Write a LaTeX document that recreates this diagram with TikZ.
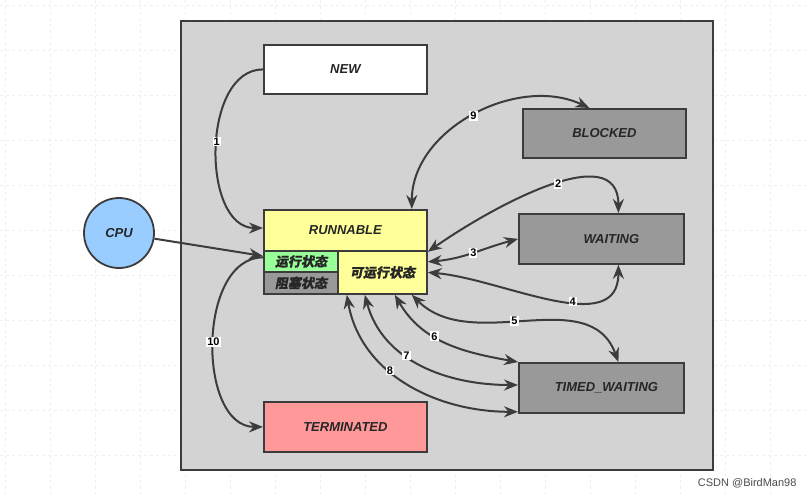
\documentclass[tikz,border=0pt]{standalone}
\usepackage{fontspec}
\setmainfont{Liberation Sans}
\newfontfamily\cjk{Noto Sans CJK SC}[FakeSlant=0.2,FakeBold=0.6]
\usetikzlibrary{arrows.meta}
\definecolor{panel}{HTML}{D3D3D3}
\definecolor{dg}{HTML}{999999}
\definecolor{yel}{HTML}{FFFF99}
\definecolor{grn}{HTML}{99FF99}
\definecolor{red}{HTML}{FF9999}
\definecolor{blu}{HTML}{99CCFF}
\definecolor{ln}{HTML}{3C3C3C}
\tikzset{
 st/.style={draw=ln,line width=1.8pt,inner sep=0pt,font=\bfseries\itshape\fontsize{13}{15}\selectfont,text=black!85},
 ar/.style={line width=2pt,draw=ln,-{Stealth[length=14pt,width=11pt]}},
 dar/.style={ar,{Stealth[length=14pt,width=11pt]}-{Stealth[length=14pt,width=11pt]}},
 lb/.style={fill=white,inner sep=1pt,font=\bfseries\fontsize{11}{12}\selectfont}
}
\begin{document}
\begin{tikzpicture}[x=1pt,y=-1pt]
\useasboundingbox (0,0) rectangle (808,499);
\fill[white] (0,0) rectangle (808,499);
\foreach \i in {0,...,17} \draw[black!6,dashed,line width=0.5pt] (5+45*\i,0) -- (5+45*\i,499);
\foreach \i in {0,...,11} \draw[black!6,dashed,line width=0.5pt] (0,5+45*\i) -- (808,5+45*\i);
\draw[ln,fill=panel,line width=1.8pt] (181,21) rectangle (713,470);
\node[st,fill=white,minimum width=163pt,minimum height=49pt,anchor=north west] (new) at (263,44) {NEW};
\node[st,fill=dg,minimum width=163pt,minimum height=49pt,anchor=north west] (blk) at (522,108) {BLOCKED};
\node[st,fill=dg,minimum width=165pt,minimum height=50pt,anchor=north west] (wait) at (518,213) {\hspace*{20pt}WAITING};
\node[st,fill=dg,minimum width=165pt,minimum height=50pt,anchor=north west] (tw) at (518,362) {\hspace*{10pt}TIMED\_WAITING};
\node[st,fill=red,minimum width=163pt,minimum height=50pt,anchor=north west] (term) at (263,401) {TERMINATED};
\node[st,fill=yel,minimum width=163pt,minimum height=41pt,anchor=north west] (run) at (263,209) {RUNNABLE};
\node[st,fill=grn,minimum width=74pt,minimum height=21pt,anchor=north west] (yx) at (263,250) {\cjk 运行状态};
\node[st,fill=dg,minimum width=74pt,minimum height=22pt,anchor=north west] (zs) at (263,271) {\cjk 阻塞状态};
\node[st,fill=yel,minimum width=89pt,minimum height=43pt,anchor=north west] (ky) at (337,250) {\cjk 可运行状态};
\node[st,circle,fill=blu,minimum size=70pt] (cpu) at (119,233) {CPU};
\coordinate (r1) at (263,228);
\coordinate (r2) at (263,256);
\draw[ar] (new.west) to[out=180,in=180,looseness=1] node[lb,pos=0.47]{1} (r1);
\draw[ar] (cpu) -- (r2);
\draw[ar] ([yshift=4pt]yx.west) to[out=180,in=180,looseness=1] node[lb,pos=0.5]{10} (term.west);
\draw[dar] ([xshift=-16pt]run.north east) to[out=90,in=155] node[lb,pos=0.5]{9} ([xshift=-15pt]blk.north);
\draw[dar] (run.south east) to[out=35,in=90] node[lb,pos=0.55]{2} ([xshift=17pt]wait.north);
\draw[dar] ([yshift=-10pt]run.south east) to[out=5,in=195] node[lb,pos=0.5]{3} (wait.west);
\draw[dar] (ky.east) to[out=-5,in=-90] node[lb,pos=0.6]{4} ([xshift=17pt]wait.south);
\draw[dar] ([xshift=-16pt]ky.south east) to[out=-45,in=110] node[lb,pos=0.45]{5} ([xshift=17pt]tw.north);
\draw[dar] ([xshift=-33pt]ky.south east) to[out=-60,in=170] node[lb,pos=0.4]{6} (tw.north west);
\draw[dar] ([xshift=-63pt]ky.south east) to[out=-75,in=180] node[lb,pos=0.4]{7} ([yshift=-23pt]tw.north west);
\draw[dar] ([xshift=-81pt]ky.south east) to[out=-80,in=180] node[lb,pos=0.4]{8} ([yshift=2pt]tw.south west);
\node[font=\fontsize{11}{12}\selectfont,text=black!70,anchor=south east] (cr) at (800,492) {CSDN @BirdMan98};
\end{tikzpicture}
\end{document}
